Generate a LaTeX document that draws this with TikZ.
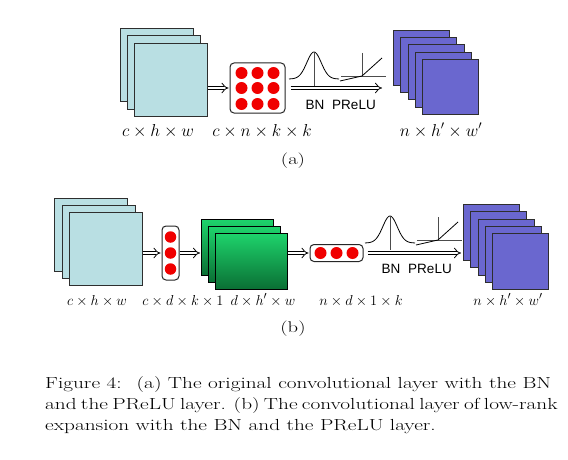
\documentclass[tikz,border=0pt]{standalone}
\usepackage{fontspec}
\newfontfamily\labelsans{Liberation Sans}
\newfontfamily\capfont[FakeStretch=1.33]{Latin Modern Roman}
\usetikzlibrary{arrows.meta,positioning,calc}
\definecolor{mapblue}{HTML}{B9DFE3}
\definecolor{mappurple}{HTML}{6A67CF}
\definecolor{mapgreentop}{HTML}{1ED36C}
\definecolor{mapgreenbot}{HTML}{0A6E34}
\definecolor{dotred}{HTML}{F00000}
\definecolor{mapedge}{HTML}{2E2E2E}

% BN bell curve and PReLU graph, #1,#2 = foot of the bell, #3 = name suffix
\newcommand\bnprelu[3]{%
  \begin{scope}[shift={(#1,#2)}]
    \draw[curve] plot[smooth,domain=-25:25,samples=41] (\x,{-27*exp(-(\x)^2/104)});
    \draw[axis] (0,-27) -- (0,7);
    \draw[axis] (27,-3) -- (72,-3);
    \draw[axis] (48,-26) -- (48,-3);
    \draw[curve] (26,2) -- (48,-3) -- (68,-21);
    \node[actlabel] (bn#3) at (1,26) {BN};
    \node[actlabel] (prelu#3) at (40,26) {PReLU};
  \end{scope}}

\begin{document}
\begin{tikzpicture}
  [x=1pt,y=-1pt,
  fmap/.style={draw=mapedge,line width=0.9pt,anchor=north west,inner sep=0pt},
  bluemap/.style={fmap,fill=mapblue,minimum width=73pt,minimum height=73pt},
  purplemap/.style={fmap,fill=mappurple,minimum width=56pt,minimum height=55pt},
  greenmap/.style={fmap,draw=black,top color=mapgreentop,bottom color=mapgreenbot,minimum width=72pt,minimum height=56pt},
  dotbox/.style={draw=black!85,line width=1pt,rounded corners=4pt,fill=white,inner sep=0pt},
  dot/.style={circle,fill=dotred,inner sep=0pt,minimum size=12pt},
  hollow/.style={double=white,double distance=2.8pt,line width=0.8pt,-{Implies}},
  curve/.style={line width=0.8pt},
  axis/.style={line width=0.5pt,black!70},
  actlabel/.style={font=\labelsans\fontsize{13.5}{14}\selectfont,inner sep=0pt},
  dimA/.style={font=\fontsize{17}{20}\selectfont,inner sep=0pt,anchor=base},
  dimB/.style={font=\fontsize{15.5}{18}\selectfont,inner sep=0pt,anchor=base},
  sublabel/.style={font=\capfont\fontsize{15.5}{18}\selectfont,inner sep=0pt}]
  \useasboundingbox (0,0) rectangle (568,460);

  % (a) original layer
  \foreach \i in {0,1,2}
    \node[bluemap] (blueA\i) at ({120+7*\i},{28+7.5*\i}) {};
  \node[dotbox,minimum width=55pt,minimum height=50pt] (dotsA) at (257.5,88) {};
  \foreach \dx in {-16,0,16}
    \foreach \dy in {-15,0,16}
      \node[dot] (dotA\dx\dy) at ($(dotsA)+(\dx,\dy)$) {};
  \foreach \i in {0,...,4}
    \node[purplemap] (purpleA\i) at ({393+7.25*\i},{30+7.25*\i}) {};

  \draw[hollow,shorten >=1pt] (blueA2.east |- dotsA.west) -- (dotsA.west);
  \bnprelu{314}{79}{A}
  \draw[hollow,shorten <=5pt,shorten >=11pt] (dotsA.east) -- (dotsA.east -| purpleA0.west);

  \node[dimA] (dimInA) at (158,136) {$c\times h\times w$};
  \node[dimA] (dimKerA) at (262,136) {$c\times n\times k\times k$};
  \node[dimA] (dimOutA) at (441,136) {$n\times h'\times w'$};
  \node[sublabel] (capA) at (293,161) {(a)};

  % (b) low-rank expansion
  \foreach \i in {0,1,2}
    \node[bluemap] (blueB\i) at ({54+7.5*\i},{198+7*\i}) {};
  \node[dotbox,minimum width=17pt,minimum height=54pt] (dotsB) at (170.5,253) {};
  \foreach \dy in {-16,0,16}
    \node[dot,minimum size=11.5pt] (dotB\dy) at ($(dotsB)+(0,\dy)$) {};
  \foreach \i in {0,1,2}
    \node[greenmap] (greenB\i) at ({201+7*\i},{219+7*\i}) {};
  \node[dotbox,minimum width=53pt,minimum height=17pt] (dotsC) at (336.5,253) {};
  \foreach \dx in {-16,0,16}
    \node[dot] (dotC\dx) at ($(dotsC)+(\dx,0)$) {};
  \foreach \i in {0,...,4}
    \node[purplemap,minimum height=56pt] (purpleB\i) at ({463+7.25*\i},{204+7.25*\i}) {};

  \draw[hollow,shorten >=1pt] (blueB2.east |- dotsB.west) -- (dotsB.west);
  \draw[hollow,shorten >=1pt] (dotsB.east) -- (dotsB.east -| greenB0.west);
  \draw[hollow,shorten >=1pt] (greenB2.east |- dotsC.west) -- (dotsC.west);
  \bnprelu{390}{243}{B}
  \draw[hollow,shorten <=4pt,shorten >=2pt] (dotsC.east) -- (dotsC.east -| purpleB0.west);

  \node[dimB] (dimInB) at (97,305) {$c\times h\times w$};
  \node[dimB] (dimVertB) at (183,305) {$c\times d\times k\times 1$};
  \node[dimB] (dimMidB) at (263,305) {$d\times h'\times w$};
  \node[dimB] (dimHorB) at (361,305) {$n\times d\times 1\times k$};
  \node[dimB] (dimOutB) at (508,305) {$n\times h'\times w'$};
  \node[sublabel] (capB) at (293,329) {(b)};

  \node[anchor=north west,inner sep=0pt,align=left,
    font=\capfont\fontsize{16}{21.3}\selectfont] (caption) at (45,376)
    {\makebox[506pt][s]{Figure 4: \ (a) The original convolutional layer with the BN}\\
     \makebox[506pt][s]{and the PReLU layer. (b) The convolutional layer of low-rank}\\
     expansion with the BN and the PReLU layer.};
\end{tikzpicture}
\end{document}
